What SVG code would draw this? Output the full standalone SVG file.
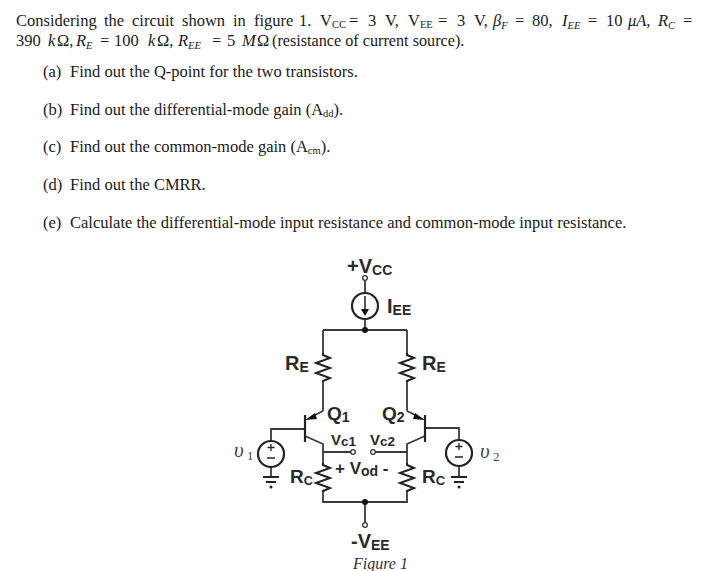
<svg xmlns="http://www.w3.org/2000/svg" width="710" height="571" viewBox="0 0 710 571">
<style>
.t{font-family:"Liberation Serif","Times New Roman",serif;font-size:16.5px;fill:#1a1a1a}
.i{font-style:italic}
.s{font-size:10.5px}
.c{font-family:"Liberation Sans",Arial,sans-serif;font-weight:700;font-size:17px;fill:#2a2a2a}
.c2{font-size:14px}
.w{fill:none;stroke:#3a3a3a;stroke-width:1.8}
.b{fill:none;stroke:#222;stroke-width:2.2}
.o{fill:#fff;stroke:#333;stroke-width:1.3}
.d{fill:#111}
</style>
<defs>
<path id="res" d="M0 0 L0 2 L7 5 L-7 10 L7 15 L-7 20 L7 25 L0 28 L0 29" fill="none" stroke="#222" stroke-width="2"/>
<g id="gnd"><path d="M-8 0H8M-5 5H5" stroke="#222" stroke-width="1.8"/><circle cx="0" cy="10" r="1.5" fill="#222"/></g>
<g id="src"><circle r="13" fill="none" stroke="#222" stroke-width="2.2"/><path d="M0 -10V-3M-3.5 -6.500H3.500M-4 4H4" stroke="#222" stroke-width="1.3"/></g>
</defs>
<g id="problem-text">
<text class="t" y="26"><tspan x="16">Considering</tspan><tspan x="104">the</tspan><tspan x="132">circuit</tspan><tspan x="182">shown</tspan><tspan x="233">in</tspan><tspan x="254">figure</tspan><tspan x="299">1.</tspan><tspan x="320">V</tspan><tspan class="s" dy="2">CC</tspan><tspan dy="-2" x="349">=</tspan><tspan x="368">3</tspan><tspan x="385">V,</tspan><tspan x="408">V</tspan><tspan class="s" dy="2">EE</tspan><tspan dy="-2" x="438">=</tspan><tspan x="457">3</tspan><tspan x="474">V,</tspan><tspan class="i" x="493">β</tspan><tspan class="i s" dy="3">F</tspan><tspan dy="-3" x="515">=</tspan><tspan x="532">80,</tspan><tspan class="i" x="562">I</tspan><tspan class="i s" dy="3">EE</tspan><tspan dy="-3" x="588">=</tspan><tspan x="606">10</tspan><tspan class="i" x="628">μA,</tspan><tspan class="i" x="658">R</tspan><tspan class="i s" dy="3">C</tspan><tspan dy="-3" x="683">=</tspan></text>
<text class="t" y="46"><tspan x="16">390</tspan><tspan class="i" x="48">k</tspan><tspan x="57">Ω,</tspan><tspan class="i" x="76">R</tspan><tspan class="i s" dy="3">E</tspan><tspan dy="-3" x="100">=</tspan><tspan x="114">100</tspan><tspan class="i" x="148">k</tspan><tspan x="157">Ω,</tspan><tspan class="i" x="178">R</tspan><tspan class="i s" dy="3">EE</tspan><tspan dy="-3" x="212">=</tspan><tspan x="227">5</tspan><tspan class="i" x="242">M</tspan><tspan x="257">Ω</tspan><tspan x="272" style="font-size:16.200px">(resistance of current source).</tspan></text>
<text class="t" y="77"><tspan x="43">(a)</tspan><tspan x="70">Find out the Q-point for the two transistors.</tspan></text>
<text class="t" y="115"><tspan x="43">(b)</tspan><tspan x="70">Find out the differential-mode gain (A</tspan><tspan class="s" dy="2">dd</tspan><tspan dy="-2">).</tspan></text>
<text class="t" y="152"><tspan x="43">(c)</tspan><tspan x="70">Find out the common-mode gain (A</tspan><tspan class="s" dy="2">cm</tspan><tspan dy="-2">).</tspan></text>
<text class="t" y="190"><tspan x="43">(d)</tspan><tspan x="70">Find out the CMRR.</tspan></text>
<text class="t" y="228"><tspan x="43">(e)</tspan><tspan x="70">Calculate the differential-mode input resistance and common-mode input resistance.</tspan></text>
</g>
<g id="connectors">
<path class="w" d="M365 281V293M365 319V330M323 330H407M323 330V353M407 330V353M323 382V411M407 382V411"/>
<path class="w" d="M305 429H271V441M271 467V477M425 428H459V440M459 466V477"/>
<path class="w" d="M305 436L323 444V463M425 436L407 444V463M323 492V502H407V492M365 502V522"/>
<path class="w" d="M323 452H351M407 452H375"/>
<path class="w" d="M323 411L313 416M407 411L417 416"/>
</g>
<g id="vcc"><circle class="o" cx="365" cy="278" r="2.3"/><text class="c" x="347" y="273" style="font-size:20px">+V<tspan class="c2" dy="2">CC</tspan></text></g>
<g id="iee"><circle cx="365" cy="306" r="13" fill="none" stroke="#222" stroke-width="2.2"/><path d="M365 296V310" stroke="#222" stroke-width="1.5"/><path d="M361 309H369L365 316Z" class="d"/><text class="c" x="387" y="313" style="font-size:20px">I<tspan class="c2" dy="2">EE</tspan></text></g>
<circle id="node-top" class="d" cx="365" cy="330" r="3"/>
<g id="re1"><use href="#res" x="323" y="353"/><text class="c" x="285" y="370" style="font-size:20px">R<tspan class="c2" dy="2">E</tspan></text></g>
<g id="re2"><use href="#res" x="407" y="353"/><text class="c" x="422" y="370" style="font-size:20px">R<tspan class="c2" dy="2">E</tspan></text></g>
<g id="q1"><path class="b" d="M305 415V442"/><path class="d" d="M305 420L315 413L317 419Z"/><text class="c" x="327" y="420" style="font-size:19px">Q<tspan class="c2" dy="2">1</tspan></text></g>
<g id="q2"><path class="b" d="M425 415V442"/><path class="d" d="M425 420L415 413L413 419Z"/><text class="c" x="382" y="420" style="font-size:19px">Q<tspan class="c2" dy="2">2</tspan></text></g>
<g id="v1"><use href="#src" x="271" y="454"/><use href="#gnd" x="271" y="477"/><text class="t i" x="234" y="457" style="font-size:21px;fill:#445">υ<tspan font-size="13" dy="3" font-style="normal"> 1</tspan></text></g>
<g id="v2"><use href="#src" x="459" y="453"/><use href="#gnd" x="459" y="477"/><text class="t i" x="480" y="458" style="font-size:21px;fill:#445">υ<tspan font-size="13" dy="3" font-style="normal"> 2</tspan></text></g>
<g id="rc1"><use href="#res" x="323" y="463"/><text class="c" x="290" y="483" style="font-size:19px">R<tspan class="c2" dy="2" style="font-size:12.500px">C</tspan></text></g>
<g id="rc2"><use href="#res" x="407" y="463"/><text class="c" x="422" y="483" style="font-size:19px">R<tspan class="c2" dy="2" style="font-size:13px">C</tspan></text></g>
<g id="vc1"><circle class="o" cx="353" cy="452" r="2.3"/><text class="c" x="331" y="445" style="font-size:15px">V<tspan class="c2" dy="1" style="font-size:13.500px">c1</tspan></text></g>
<g id="vc2"><circle class="o" cx="373" cy="452" r="2.3"/><text class="c" x="370" y="445" style="font-size:15px">V<tspan class="c2" dy="1" style="font-size:13.500px">c2</tspan></text></g>
<text id="vod" class="c" x="335" y="474" style="font-size:17px">+ V<tspan class="c2" dy="2" style="font-size:14px">od</tspan><tspan dy="-2"> -</tspan></text>
<circle id="node-bottom" class="d" cx="365" cy="502" r="3"/>
<g id="vee"><circle class="o" cx="365" cy="525" r="2.3"/><text class="c" x="351" y="548" style="font-size:20px">-V<tspan class="c2" dy="2">EE</tspan></text></g>
<text id="caption" class="t i" x="353" y="569" style="font-size:16px;fill:#333">Figure 1</text>
</svg>
